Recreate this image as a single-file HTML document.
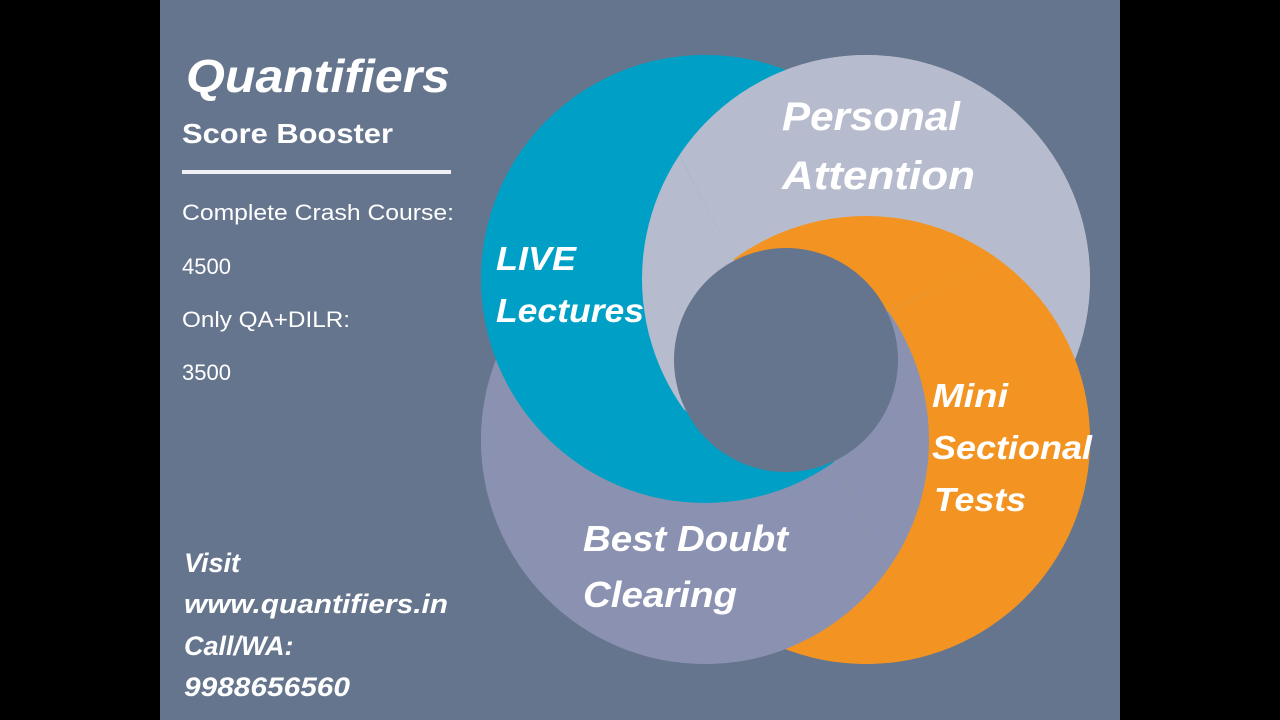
<!DOCTYPE html>
<html><head><meta charset="utf-8"><style>
html,body{margin:0;padding:0;background:#000;}
svg{display:block;}
text{font-family:"Liberation Sans",sans-serif;fill:#fff;}
</style></head><body>
<svg width="1280" height="720" viewBox="0 0 1280 720" xmlns="http://www.w3.org/2000/svg">
<defs>
<clipPath id="sO"><polygon points="786,360 309,-519 1696,-55"/></clipPath>
<clipPath id="sL"><polygon points="786,360 1689,-71 1201,1270"/></clipPath>
<clipPath id="sB"><polygon points="786,360 1217,1263 -109,806"/></clipPath>
<clipPath id="sG"><polygon points="786,360 -101,822 324,-527"/></clipPath>
</defs>
<rect x="0" y="0" width="1280" height="720" fill="#000"/>
<rect x="160" y="0" width="960" height="720" fill="#65758d"/>

<g>
<circle cx="705" cy="440" r="224" fill="#8b91b0"/>
<circle cx="866" cy="440" r="224" fill="#f39422"/>
<circle cx="705" cy="279" r="224" fill="#00a0c6"/>
<circle cx="866" cy="279" r="224" fill="#b6bccd"/>
</g>
<g clip-path="url(#sO)">
<circle cx="705" cy="440" r="224" fill="#8b91b0"/>
<circle cx="705" cy="279" r="224" fill="#00a0c6"/>
<circle cx="866" cy="279" r="224" fill="#b6bccd"/>
<circle cx="866" cy="440" r="224" fill="#f39422"/>
</g>
<g clip-path="url(#sL)">
<circle cx="705" cy="279" r="224" fill="#00a0c6"/>
<circle cx="866" cy="279" r="224" fill="#b6bccd"/>
<circle cx="866" cy="440" r="224" fill="#f39422"/>
<circle cx="705" cy="440" r="224" fill="#8b91b0"/>
</g>
<g clip-path="url(#sB)">
<circle cx="866" cy="279" r="224" fill="#b6bccd"/>
<circle cx="866" cy="440" r="224" fill="#f39422"/>
<circle cx="705" cy="440" r="224" fill="#8b91b0"/>
<circle cx="705" cy="279" r="224" fill="#00a0c6"/>
</g>
<g clip-path="url(#sG)">
<circle cx="866" cy="440" r="224" fill="#f39422"/>
<circle cx="705" cy="440" r="224" fill="#8b91b0"/>
<circle cx="705" cy="279" r="224" fill="#00a0c6"/>
<circle cx="866" cy="279" r="224" fill="#b6bccd"/>
</g>
<line x1="733" y1="261" x2="685" y2="170" stroke="#b6bccd" stroke-width="3"/>
<line x1="686" y1="411" x2="610" y2="450" stroke="#00a0c6" stroke-width="3"/>
<circle cx="786" cy="360" r="112" fill="#65758d"/>

<text x="186" y="92" font-size="46" font-weight="bold" font-style="italic" fill="#f0f1f4" textLength="264" lengthAdjust="spacingAndGlyphs">Quantifiers</text>
<text x="182" y="143" font-size="28" font-weight="bold" fill="#f0f1f4" textLength="211" lengthAdjust="spacingAndGlyphs">Score Booster</text>
<rect x="182" y="170" width="269" height="4" fill="#eef0f4"/>
<text x="182" y="220" font-size="22" fill="#eef0f4" textLength="272" lengthAdjust="spacingAndGlyphs">Complete Crash Course:</text>
<text x="182" y="274" font-size="22" fill="#eef0f4">4500</text>
<text x="182" y="327" font-size="22" fill="#eef0f4" textLength="168" lengthAdjust="spacingAndGlyphs">Only QA+DILR:</text>
<text x="182" y="380" font-size="22" fill="#eef0f4">3500</text>

<g font-weight="bold" font-style="italic" font-size="27">
<text x="184" y="572">Visit</text>
<text x="184" y="613" textLength="264" lengthAdjust="spacingAndGlyphs">www.quantifiers.in</text>
<text x="184" y="655">Call/WA:</text>
<text x="184" y="696" textLength="166" lengthAdjust="spacingAndGlyphs">9988656560</text>
</g>

<g font-weight="bold" font-style="italic">
<text x="782" y="130" font-size="40" textLength="178" lengthAdjust="spacingAndGlyphs">Personal</text>
<text x="782" y="189" font-size="40" textLength="193" lengthAdjust="spacingAndGlyphs">Attention</text>
<text x="496" y="270" font-size="33" textLength="80" lengthAdjust="spacingAndGlyphs">LIVE</text>
<text x="496" y="322" font-size="33" textLength="148" lengthAdjust="spacingAndGlyphs">Lectures</text>
<text x="932" y="407" font-size="33" textLength="76" lengthAdjust="spacingAndGlyphs">Mini</text>
<text x="932" y="459" font-size="33" textLength="160" lengthAdjust="spacingAndGlyphs">Sectional</text>
<text x="934" y="511" font-size="33" textLength="92" lengthAdjust="spacingAndGlyphs">Tests</text>
<text x="583" y="551" font-size="36" textLength="205" lengthAdjust="spacingAndGlyphs">Best Doubt</text>
<text x="583" y="607" font-size="36" textLength="154" lengthAdjust="spacingAndGlyphs">Clearing</text>
</g>
</svg>
</body></html>
